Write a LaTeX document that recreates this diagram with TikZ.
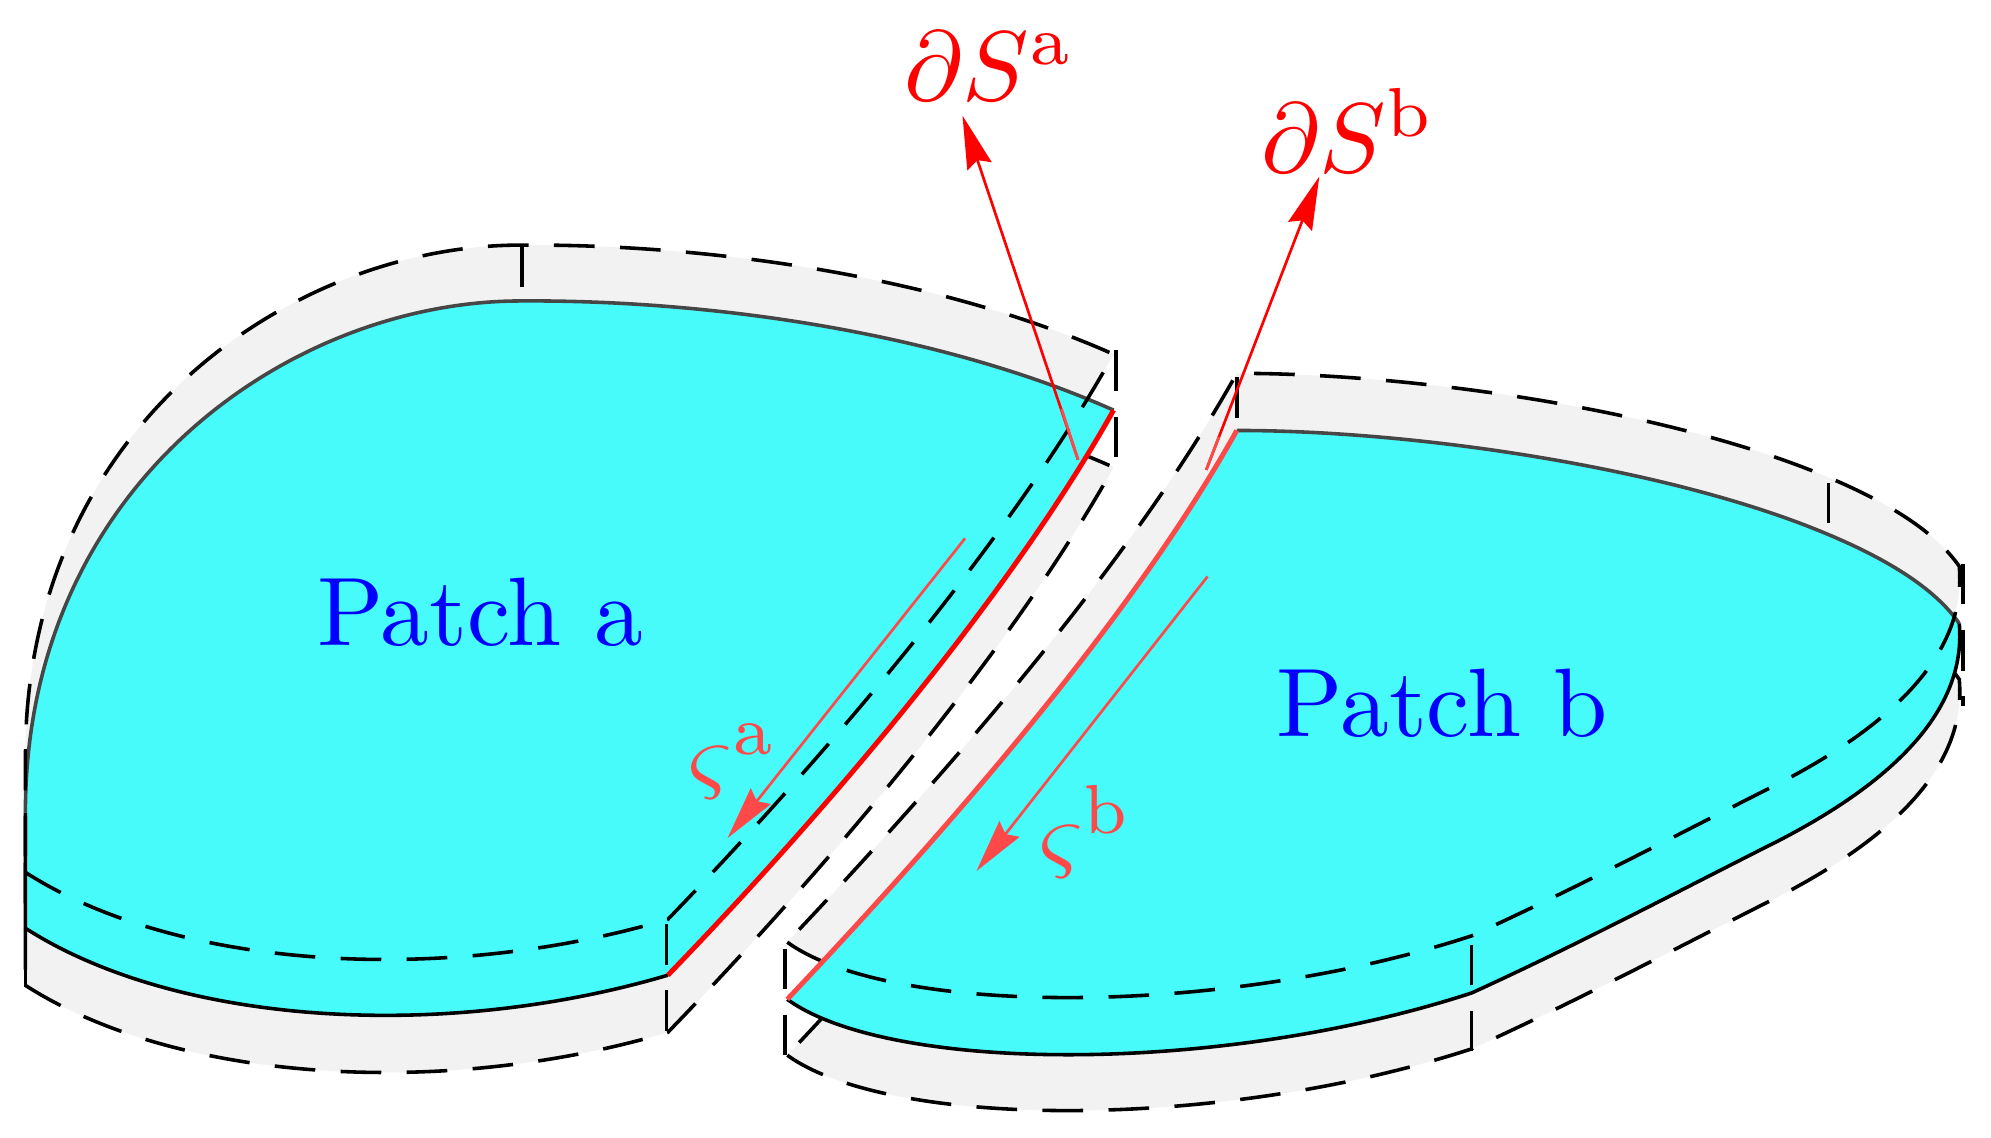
\documentclass[tikz,border=0pt]{standalone}
\usepackage{amsmath}
\usetikzlibrary{arrows.meta}
\definecolor{planecyan}{RGB}{71,251,251}
\definecolor{wallgray}{RGB}{242,242,242}
\definecolor{softred}{RGB}{255,72,72}
\definecolor{backgray}{RGB}{70,70,70}
% outline pieces of the two patches
\newcommand{\afront}{(20,731) .. controls (140,808) and (350,820) .. (526,768)}
\newcommand{\aseam}{(526,768) .. controls (640,650) and (790,478) .. (877,323)}
\newcommand{\aback}{(877,323) .. controls (740,262) and (560,236) .. (410,237)
  .. controls (230,237) and (20,380) .. (20,640)}
\newcommand{\bfront}{(620,787) .. controls (700,845) and (960,847) .. (1159,782)
  .. controls (1240,745) and (1310,708) .. (1389,668)
  .. controls (1470,628) and (1550,570) .. (1543,491)}
\newcommand{\bback}{(1543,491) .. controls (1525,465) and (1490,442) .. (1440,421)
  .. controls (1320,370) and (1120,339) .. (974,339)}
\newcommand{\bseam}{(974,339) .. controls (890,490) and (740,660) .. (620,787)}
\newcommand{\patcha}{\afront -- \aseam -- \aback -- cycle}
\newcommand{\patchb}{\bfront -- \bback -- \bseam -- cycle}
\tikzset{
  wall/.style={fill=wallgray,draw=none},
  plane/.style={fill=planecyan,draw=none},
  frontedge/.style={draw=black,line width=0.8pt},
  backedge/.style={draw=backgray,line width=0.8pt},
  rim/.style={draw=black,line width=0.8pt,dash pattern=on 0.32cm off 0.2cm},
  seam/.style={line width=1.1pt},
  pointer/.style={line width=0.6pt,-{Stealth[length=0.42cm,width=0.2cm,inset=0.05cm]}},
  patchlabel/.style={blue,inner sep=0pt,anchor=base,scale=2.18,transform shape},
  mathlabel/.style={inner sep=0pt,scale=2.22,transform shape}
}
\begin{document}
\begin{tikzpicture}[x=0.01cm,y=-0.01cm]
  \useasboundingbox (0,0) rectangle (1568,896);
  % walls and hidden rims
  \path[wall,shift={(0,-44)}] \patcha;
  \path[wall,shift={(0,45)}] \patcha;
  \path[wall,shift={(0,-45)}] \patchb;
  \path[wall,shift={(0,44)}] \patchb;
  \draw[rim,shift={(0,45)}] \patcha;
  \draw[rim,shift={(0,44)}] \patchb;
  \draw[rim] (411,194) -- (411,280);
  \draw[rim] (974,297) -- (974,382);
  \draw[rim] (1440,380) -- (1440,465);
  % the two planes
  \path[plane] \patcha;
  \path[plane] \patchb;
  \draw[backedge] \aback;
  \draw[backedge] \bback;
  \draw[frontedge] (20,640) -- \afront;
  \draw[frontedge] \bfront;
  % upper rims
  \draw[rim,shift={(0,-44)}] \patcha;
  \draw[rim,shift={(0,-45)}] \patchb;
  \draw[rim] (20,590) -- (20,777);
  \draw[rim] (525,728) -- (525,813);
  \draw[rim] (879,276) -- (879,370);
  \draw[rim] (618,747) -- (618,832);
  \draw[rim] (1159,744) -- (1159,828);
  \draw[rim] (1546,444) -- (1546,556);
  % seams
  \draw[seam,red] \aseam;
  \draw[seam,softred] \bseam;
  % labels
  \node[patchlabel] (patcha) at (378,508) {Patch a};
  \node[patchlabel] (patchb) at (1136,580) {Patch b};
  \node[mathlabel,red] (dsa) at (779,52) {$\partial S^{\mathrm{a}}$};
  \node[mathlabel,red] (dsb) at (1062,103) {$\partial S^{\mathrm{b}}$};
  \node[mathlabel,softred] (va) at (577,600) {$\varsigma^{\mathrm{a}}$};
  \node[mathlabel,softred] (vb) at (855,655) {$\varsigma^{\mathrm{b}}$};
  % arrows
  \coordinate (sa) at (849,362);
  \coordinate (samid) at (836,322);
  \coordinate (sb) at (950,370);
  \coordinate (sbmid) at (960,344);
  \coordinate (satip) at (758,91);
  \coordinate (sbtip) at (1039,139);
  \coordinate (ca) at (760,424);
  \coordinate (catip) at (573,660);
  \coordinate (cb) at (951,454);
  \coordinate (cbtip) at (769,686);
  \draw[pointer,red] (sa) -- (satip);
  \draw[pointer,red] (sb) -- (sbtip);
  \draw[line width=0.6pt,softred] (sa) -- (samid);
  \draw[line width=0.6pt,softred] (sb) -- (sbmid);
  \draw[pointer,softred] (ca) -- (catip);
  \draw[pointer,softred] (cb) -- (cbtip);
\end{tikzpicture}
\end{document}
